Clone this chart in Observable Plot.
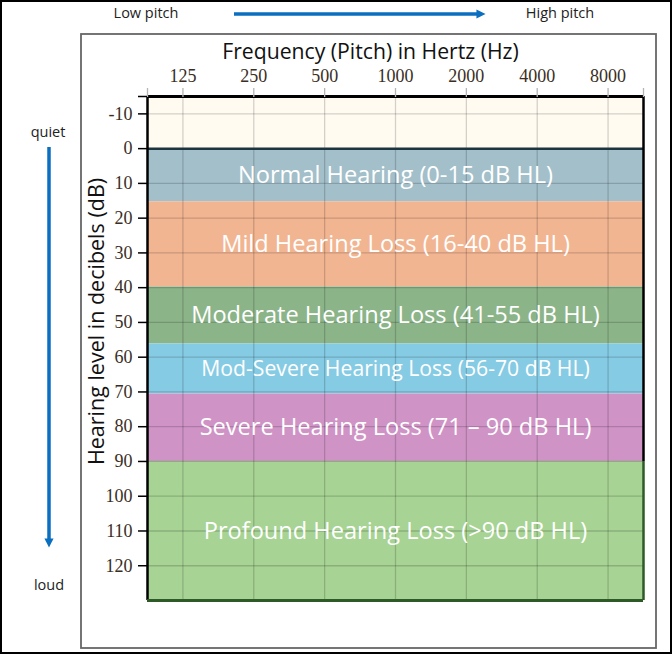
<!DOCTYPE html>
<html>
<head>
<meta charset="utf-8">
<script src="https://cdn.jsdelivr.net/npm/d3@7"></script>
<script src="https://cdn.jsdelivr.net/npm/@observablehq/plot@0.6"></script>
<style>
  html, body { margin: 0; padding: 0; background: #fff; }
  #chart { width: 672px; height: 654px; position: relative; }
</style>
</head>
<body>
<div id="chart"></div>
<script>
// ---- data ----
const freqTicks = [125, 250, 500, 1000, 2000, 4000, 8000];
const dbTicks = [-10, 0, 10, 20, 30, 40, 50, 60, 70, 80, 90, 100, 110, 120];
const dbDomain = [-15, 130];
const bandLabels = [
  "",
  "Normal Hearing (0-15 dB HL)",
  "Mild Hearing Loss (16-40 dB HL)",
  "Moderate Hearing Loss (41-55 dB HL)",
  "Mod-Severe Hearing Loss (56-70 dB HL)",
  "Severe Hearing Loss (71 \u2013 90 dB HL)",
  "Profound Hearing Loss (>90 dB HL)"
];
const bandLow = [-15, 0, 15.3, 39.8, 56.2, 70.6, 90];
const bandHigh = [0, 15.3, 39.8, 56.2, 70.6, 90, 130];
const bandColors = ["#fffbf1", "#a3bfca", "#f2b592", "#8cb489", "#86cbe4", "#cf93c6", "#a7d394"];
const bandFontSize = [23.6, 23.6, 23.6, 23.6, 21.2, 23.6, 23.6];

const xLo = freqTicks[0] / Math.SQRT2;
const xHi = freqTicks[freqTicks.length - 1] * Math.SQRT2;

const bands = bandLabels.map((label, i) => ({
  label, lo: bandLow[i], hi: bandHigh[i], mid: (bandLow[i] + bandHigh[i]) / 2,
  color: bandColors[i], fs: bandFontSize[i]
}));

const serif = "'Liberation Serif', 'DejaVu Serif', serif";
const sans = "'Open Sans', 'Noto Sans', sans-serif";

const plot = Plot.plot({
  width: 672,
  height: 654,
  marginLeft: 147,
  marginRight: 29,
  marginTop: 96,
  marginBottom: 54,
  style: { background: "transparent", overflow: "visible" },
  x: { type: "log", base: 2, domain: [xLo, xHi] },
  y: { domain: dbDomain, reverse: true },
  marks: [
    Plot.rect(bands, { x1: xLo, x2: xHi, y1: "lo", y2: "hi", fill: "color" }),
    Plot.ruleX(freqTicks, { stroke: "#000", strokeOpacity: 0.17, strokeWidth: 1.3 }),
    Plot.ruleY(dbTicks, { stroke: "#000", strokeOpacity: 0.17, strokeWidth: 1.3 }),
    // frame lines
    Plot.ruleY([dbDomain[0]], { stroke: "#000", strokeWidth: 3 }),
    Plot.ruleY([0], { stroke: "#1c3440", strokeWidth: 2.5 }),
    Plot.ruleX([xLo], { stroke: "#000", strokeWidth: 2.5 }),
    Plot.ruleX([xHi], { y1: dbDomain[0], y2: 90, stroke: "#000", strokeWidth: 2.5 }),
    Plot.ruleX([xHi], { y1: 90, y2: dbDomain[1], stroke: "#2e5a28", strokeWidth: 2.5 }),
    Plot.ruleY([dbDomain[1]], { stroke: "#2e5a28", strokeWidth: 3 }),
    // band labels
    Plot.text(bands.filter(d => d.label), {
      x: 1000, y: "mid", text: "label", fill: "#fff",
      fontSize: d => d.fs, fontFamily: sans, lineAnchor: "middle"
    }),
    // axes
    Plot.axisX({
      anchor: "top", ticks: [xLo, ...freqTicks, xHi],
      tickFormat: d => freqTicks.includes(d) ? String(d) : "",
      tickSize: 9, tickPadding: 6, stroke: "#b5b5b5", strokeWidth: 1.3,
      fontFamily: serif, fontSize: 18, fill: "#3a2e24", label: null
    }),
    Plot.axisY({
      ticks: [dbDomain[0], ...dbTicks],
      tickFormat: d => d === dbDomain[0] ? "" : String(d),
      tickSize: 9, tickPadding: 6, stroke: "#000", strokeWidth: 1.5,
      fontFamily: serif, fontSize: 18, fill: "#3a2e24", label: null
    }),
    // axis titles
    Plot.text(["Frequency (Pitch) in Hertz (Hz)"], {
      frameAnchor: "top", dx: -25, dy: -44, fontSize: 21.2, fontFamily: sans, fill: "#111",
      textAnchor: "middle", lineAnchor: "middle"
    }),
    Plot.text(["Hearing level in decibels (dB)"], {
      frameAnchor: "left", dx: -50, dy: -27, rotate: -90, fontSize: 21.5, fontFamily: sans, fill: "#111",
      textAnchor: "middle", lineAnchor: "middle"
    })
  ]
});

document.getElementById("chart").appendChild(plot);

// ---- decorations ----
const svg = d3.select(plot);
const deco = svg.insert("g", ":first-child");
deco.append("rect").attr("x", 0).attr("y", 0).attr("width", 672).attr("height", 654).attr("fill", "#fff");
const overlay = svg.append("g");
overlay.append("rect").attr("x", 1).attr("y", 1).attr("width", 670).attr("height", 652)
  .attr("fill", "none").attr("stroke", "#000").attr("stroke-width", 2);
overlay.append("rect").attr("x", 81).attr("y", 34).attr("width", 575).attr("height", 614)
  .attr("fill", "none").attr("stroke", "#666").attr("stroke-width", 1.8);

const blue = "#0b6fbf";
const defs = svg.append("defs");
defs.append("marker").attr("id", "ah").attr("viewBox", "0 0 10 10")
  .attr("refX", 5).attr("refY", 5).attr("markerWidth", 2.6).attr("markerHeight", 2.6)
  .attr("orient", "auto").attr("markerUnits", "strokeWidth")
  .append("path").attr("d", "M0,0 L10,5 L0,10 z").attr("fill", blue);

overlay.append("line").attr("x1", 234).attr("y1", 14).attr("x2", 481).attr("y2", 14)
  .attr("stroke", blue).attr("stroke-width", 3.5).attr("marker-end", "url(#ah)");
overlay.append("line").attr("x1", 49).attr("y1", 147).attr("x2", 49).attr("y2", 543)
  .attr("stroke", blue).attr("stroke-width", 3.5).attr("marker-end", "url(#ah)");

const lab = (t, x, y) => overlay.append("text").attr("x", x).attr("y", y)
  .attr("text-anchor", "middle").attr("dominant-baseline", "central")
  .attr("font-family", sans).attr("font-size", 14.5).attr("fill", "#222").text(t);
lab("Low pitch", 146, 12);
lab("High pitch", 560, 12);
lab("quiet", 48, 131);
lab("loud", 49, 584);
</script>
</body>
</html>
